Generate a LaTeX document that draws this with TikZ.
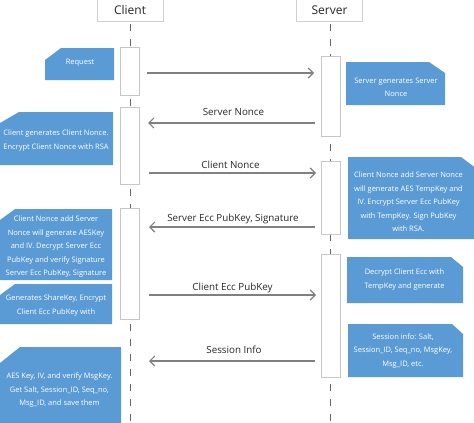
\documentclass[tikz,border=0pt]{standalone}
\usepackage{fontspec}
\setmainfont{Open Sans}
\usetikzlibrary{arrows.meta}
\definecolor{noteblue}{HTML}{5B9BD5}
\tikzset{
  hdr/.style={draw=black!18, fill=white, line width=0.7pt, minimum width=66pt, minimum height=23pt, inner sep=0pt, font=\fontsize{12}{14}\selectfont, text=black!85},
  life/.style={draw=black!60, line width=1pt, dash pattern=on 7pt off 8pt, dash phase=-2pt},
  act/.style={draw=black!22, fill=white, line width=0.7pt, minimum width=19pt, inner sep=0pt},
  msg/.style={draw=black!50, line width=1.2pt, -{Straight Barb[length=5pt,width=10pt,line width=1.2pt]}},
  lbl/.style={font=\fontsize{9.8}{12}\selectfont, text=black!85, inner sep=0pt, anchor=base},
  notefill/.style={fill=noteblue},
  notetext/.style={font=\fontsize{7.5}{13.5}\selectfont, text=white, align=center, inner sep=0pt},
}
\begin{document}
\begin{tikzpicture}[x=1pt,y=-1pt]
\useasboundingbox (0,0) rectangle (474,423);

% headers
\node[hdr] (client) at (130,10) {Client};
\node[hdr] (server) at (329.5,10) {Server};
\coordinate (clientend) at (130,423);
\coordinate (serverend) at (330,423);

% lifelines
\draw[life] (client.south -| clientend) -- (clientend);
\draw[life] (server.south -| serverend) -- (serverend);

% activation boxes
\node[act, minimum height=48pt]  (c1) at (130,71) {};
\node[act, minimum height=77pt]  (c2) at (130,145.5) {};
\node[act, minimum height=111pt] (c3) at (130,263.5) {};
\node[act, minimum height=80pt]  (s1) at (330.5,96) {};
\node[act, minimum height=73pt]  (s2) at (330.5,197.5) {};
\node[act, minimum height=123pt] (s3) at (330.5,315.5) {};

% note shapes
\fill[notefill] (45,60) -- (61,48) -- (114,48) -- (114,80) -- (45,80) -- cycle;
\fill[notefill] (346,62) -- (429,62) -- (445,73) -- (445,105) -- (346,105) -- cycle;
\fill[notefill] (0,123) -- (19,112) -- (113,112) -- (113,165) -- (0,165) -- cycle;
\fill[notefill] (348,157) -- (461,157) -- (477,169) -- (477,239) -- (348,239) -- cycle;
\fill[notefill] (0,220) -- (15,209) -- (112,209) -- (112,280) -- (0,280) -- cycle;
\fill[notefill] (0,295) -- (15,284) -- (112,284) -- (112,324) -- (0,324) -- cycle;
\fill[notefill] (347,257) -- (451,257) -- (463,267) -- (463,303) -- (347,303) -- cycle;
\fill[notefill] (348,324) -- (452,324) -- (463,334) -- (463,377) -- (348,377) -- cycle;
\fill[notefill] (0,363) -- (20,347) -- (121,347) -- (121,424) -- (0,424) -- cycle;

% note texts
\node[notetext] (n1) at (80,63) {Request};
\node[notetext] (n2) at (396,87.5) {Server generates Server\\Nonce};
\node[notetext] (n3) at (56,140.5) {Client generates Client Nonce.\\Encrypt Client Nonce with RSA};
\node[notetext] (n4) at (408.5,202) {Client Nonce add Server Nonce\\will generate AES TempKey and\\IV. Encrypt Server Ecc PubKey\\with TempKey. Sign PubKey\\with RSA.};
\node[notetext] (n5) at (56,247) {Client Nonce add Server\\Nonce will generate AESKey\\and IV. Decrypt Server Ecc\\PubKey and verify Signature\\Server Ecc PubKey, Signature};
\node[notetext] (n6) at (56,305.5) {Generates ShareKey, Encrypt\\Client Ecc PubKey with};
\node[notetext] (n7) at (404.5,279.5) {Decrypt Client Ecc with\\TempKey and generate};
\node[notetext] (n8) at (403,351) {Session info: Salt,\\Session\_ID, Seq\_no, MsgKey,\\Msg\_ID, etc.};
\node[notetext] (n9) at (59.5,390.5) {AES Key, IV, and verify MsgKey.\\Get Salt, Session\_ID, Seq\_no,\\Msg\_ID, and save them};

% message end points
\coordinate (m1a) at (147,73);  \coordinate (m1b) at (314,73);
\coordinate (m2a) at (315,123); \coordinate (m2b) at (148,123);
\coordinate (m3a) at (149,173); \coordinate (m3b) at (316,173);
\coordinate (m4a) at (315,227); \coordinate (m4b) at (149,227);
\coordinate (m5a) at (149,295); \coordinate (m5b) at (316,295);
\coordinate (m6a) at (315,361); \coordinate (m6b) at (149,361);

% messages
\draw[msg] (m1a) -- (m1b);
\draw[msg] (m2a) -- node[lbl, xshift=2pt, yshift=7.5pt] (l2) {Server Nonce} (m2b);
\draw[msg] (m3a) -- node[lbl, xshift=-2pt, yshift=4.5pt] (l3) {Client Nonce} (m3b);
\draw[msg] (m4a) -- node[lbl, xshift=1pt, yshift=5.5pt] (l4) {Server Ecc PubKey, Signature} (m4b);
\draw[msg] (m5a) -- node[lbl, yshift=4.5pt] (l5) {Client Ecc PubKey} (m5b);
\draw[msg] (m6a) -- node[lbl, xshift=2pt, yshift=7.5pt] (l6) {Session Info} (m6b);
\end{tikzpicture}
\end{document}
